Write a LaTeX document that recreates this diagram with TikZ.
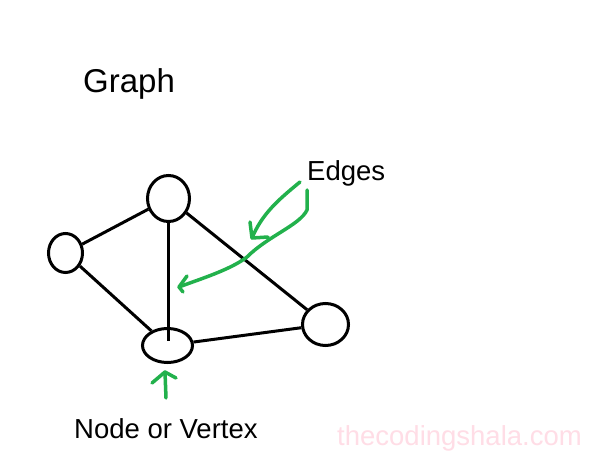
\documentclass[tikz,border=0pt]{standalone}
\usepackage{fontspec}
\setmainfont{Liberation Sans}
\usepackage{xcolor}
\usepackage{tikz}
\usetikzlibrary{shapes.geometric}

\definecolor{stiftgruen}{HTML}{22B14C}
\definecolor{wasserrosa}{HTML}{FFDDE6}

\begin{document}
\begin{tikzpicture}[x=1pt,y=-1pt,
		knoten/.style={draw=black,ellipse,line width=3pt,inner sep=0pt},
		kante/.style={draw=black,line width=3pt},
		pfeil/.style={draw=stiftgruen,line width=3.5pt,line cap=round,line join=round}]
		\useasboundingbox[fill=white] (0,0) rectangle (598,476);

		% Knoten
		\node[knoten,minimum width=42pt,minimum height=46pt] (o) at (168.5,198.5) {};
		\node[knoten,minimum width=34pt,minimum height=39pt] (l) at (65.5,253) {};
		\node[knoten,minimum width=50pt,minimum height=34pt] (u) at (167.5,345.5) {};
		\node[knoten,minimum width=46pt,minimum height=42pt] (r) at (325.5,324.5) {};

		% Kanten
		\draw[kante] (l) -- (o);
		\draw[kante] (l) -- (u);
		\draw[kante] (o.south) -- ([yshift=5pt]o.south |- u.center);
		\draw[kante] (o) -- (r);
		\draw[kante] (u) -- (r);

		% Texte
		\node[anchor=base west,inner sep=0pt,font=\fontsize{33}{40}\selectfont] (titel) at (83,93) {Graph};
		\node[anchor=base west,inner sep=0pt,font=\fontsize{27.5}{33}\selectfont] (kt) at (307,181) {Edges};
		\node[anchor=base west,inner sep=0pt,font=\fontsize{27.5}{33}\selectfont] (kn) at (74,438) {Node or Vertex};
		\node[anchor=base west,inner sep=0pt,text=wasserrosa,font=\fontsize{27.5}{33}\selectfont] (wz) at (337,445) {thecodingshala.com};

		% Pfeile
		\coordinate (a1) at (300,182);
		\coordinate (s1) at (252,238);
		\coordinate (a2) at (307,190);
		\coordinate (s2) at (179,287);
		\coordinate (a3) at (166,398);
		\coordinate (s3) at (165,372);

		\draw[pfeil] (a1) .. controls (278,200) and (262,214) .. (s1);
		\draw[pfeil] (250,222) -- (s1) -- (268,237);
		\draw[pfeil] (a2) -- (307,210) .. controls (300,225) and (268,236) .. (247,257)
			.. controls (230,270) and (200,279) .. (s2);
		\draw[pfeil] (187,276) -- (s2) -- (183,292);
		\draw[pfeil] (a3) -- (s3);
		\draw[pfeil] (152,383) -- (s3) -- (176,378);
	\end{tikzpicture}
\end{document}
